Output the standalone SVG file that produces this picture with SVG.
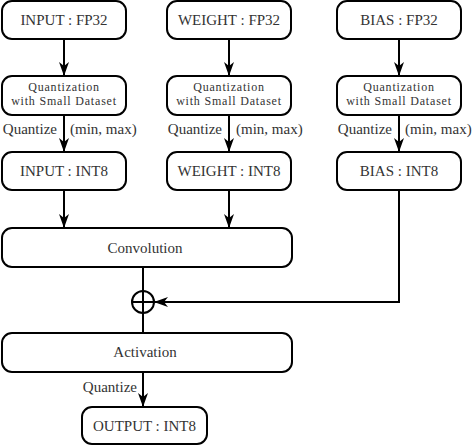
<svg xmlns="http://www.w3.org/2000/svg" width="474" height="446" viewBox="0 0 474 446">
<style>
.box{fill:#fff;stroke:#000;stroke-width:2}
.t{font-family:"Liberation Serif",serif;font-size:15px;fill:#333;text-anchor:middle}
.s{font-family:"Liberation Serif",serif;font-size:12px;fill:#333;text-anchor:middle;letter-spacing:0.8px}
.l{font-family:"Liberation Serif",serif;font-size:15px;fill:#333}
.c{fill:none;stroke:#000;stroke-width:2}
</style>
<defs>
<marker id="ah" viewBox="0 0 14 10" refX="14" refY="5" markerWidth="14" markerHeight="10" markerUnits="userSpaceOnUse" orient="auto">
<path d="M0,0 L14,5 L0,10 L4,5 Z" fill="#000"/>
</marker>
</defs>
<rect width="474" height="446" fill="#fff"/>
<g id="connectors">
<path class="c" d="M64,39 V76" marker-end="url(#ah)"/>
<path class="c" d="M229,39 V76" marker-end="url(#ah)"/>
<path class="c" d="M399,39 V76" marker-end="url(#ah)"/>
<path class="c" d="M64,115 V152" marker-end="url(#ah)"/>
<path class="c" d="M229,115 V152" marker-end="url(#ah)"/>
<path class="c" d="M399,115 V152" marker-end="url(#ah)"/>
<path class="c" d="M64,190 V228" marker-end="url(#ah)"/>
<path class="c" d="M229,190 V228" marker-end="url(#ah)"/>
<path class="c" d="M143,267 V291"/>
<path class="c" d="M399,190 V302 H154" marker-end="url(#ah)"/>
<path class="c" d="M143,313 V333"/>
<path class="c" d="M143,372 V407" marker-end="url(#ah)"/>
<text class="l" x="57" y="134" text-anchor="end">Quantize</text>
<text class="l" x="70" y="134">(min, max)</text>
<text class="l" x="222" y="134" text-anchor="end">Quantize</text>
<text class="l" x="236" y="134">(min, max)</text>
<text class="l" x="392" y="134" text-anchor="end">Quantize</text>
<text class="l" x="405" y="134">(min, max)</text>
<text class="l" x="137" y="392" text-anchor="end">Quantize</text>
</g>
<g id="input_fp32"><rect class="box" x="2" y="1" width="124" height="38" rx="10"/><text class="t" x="64" y="25">INPUT : FP32</text></g>
<g id="weight_fp32"><rect class="box" x="167" y="1" width="124" height="38" rx="10"/><text class="t" x="229" y="25">WEIGHT : FP32</text></g>
<g id="bias_fp32"><rect class="box" x="337" y="1" width="124" height="38" rx="10"/><text class="t" x="399" y="25">BIAS : FP32</text></g>
<g id="quant_input"><rect class="box" x="2" y="76" width="124" height="39" rx="10"/><text class="s" x="64" y="91">Quantization</text><text class="s" x="64" y="105">with Small Dataset</text></g>
<g id="quant_weight"><rect class="box" x="167" y="76" width="124" height="39" rx="10"/><text class="s" x="229" y="91">Quantization</text><text class="s" x="229" y="105">with Small Dataset</text></g>
<g id="quant_bias"><rect class="box" x="337" y="76" width="124" height="39" rx="10"/><text class="s" x="399" y="91">Quantization</text><text class="s" x="399" y="105">with Small Dataset</text></g>
<g id="input_int8"><rect class="box" x="2" y="152" width="124" height="38" rx="10"/><text class="t" x="64" y="176">INPUT : INT8</text></g>
<g id="weight_int8"><rect class="box" x="167" y="152" width="124" height="38" rx="10"/><text class="t" x="229" y="176">WEIGHT : INT8</text></g>
<g id="bias_int8"><rect class="box" x="337" y="152" width="124" height="38" rx="10"/><text class="t" x="399" y="176">BIAS : INT8</text></g>
<g id="convolution"><rect class="box" x="2" y="228" width="290" height="39" rx="10"/><text class="t" x="145" y="253">Convolution</text></g>
<g id="add"><circle class="c" cx="143" cy="302" r="11"/><path class="c" d="M132,302 H154 M143,291 V313"/></g>
<g id="activation"><rect class="box" x="2" y="333" width="290" height="39" rx="10"/><text class="t" x="145" y="357">Activation</text></g>
<g id="output_int8"><rect class="box" x="82" y="407" width="125" height="37" rx="10"/><text class="t" x="144.5" y="431">OUTPUT : INT8</text></g>
</svg>
